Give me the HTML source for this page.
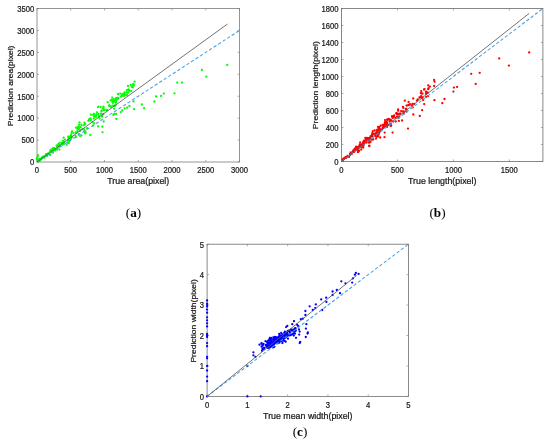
<!DOCTYPE html><html><head><meta charset="utf-8"><title>Figure</title><style>html,body{margin:0;padding:0;background:#fff}svg{display:block}text{font-family:"Liberation Sans",Arial,sans-serif;fill:#1a1a1a;stroke:#1a1a1a;stroke-width:0.24px}.cap{font-family:"Liberation Serif","Palatino Linotype",serif;fill:#000;stroke:none}</style></head><body>
<svg width="550" height="444" viewBox="0 0 550 444">
<rect width="550" height="444" fill="#fff"/>
<g>
<rect x="37.0" y="8.5" width="202.50" height="153.50" fill="none" stroke="#7c7c7c" stroke-width="0.8"/>
<path d="M37.00 162.0v-2.0M37.00 8.5v2.0M70.75 162.0v-2.0M70.75 8.5v2.0M104.50 162.0v-2.0M104.50 8.5v2.0M138.25 162.0v-2.0M138.25 8.5v2.0M172.00 162.0v-2.0M172.00 8.5v2.0M205.75 162.0v-2.0M205.75 8.5v2.0M239.50 162.0v-2.0M239.50 8.5v2.0M37.0 162.00h2.0M239.5 162.00h-2.0M37.0 140.07h2.0M239.5 140.07h-2.0M37.0 118.14h2.0M239.5 118.14h-2.0M37.0 96.21h2.0M239.5 96.21h-2.0M37.0 74.29h2.0M239.5 74.29h-2.0M37.0 52.36h2.0M239.5 52.36h-2.0M37.0 30.43h2.0M239.5 30.43h-2.0M37.0 8.50h2.0M239.5 8.50h-2.0" stroke="#777" stroke-width="0.6" fill="none"/>
<g fill="#00ff00">
<circle cx="52.9" cy="152.7" r="1.15"/>
<circle cx="53.3" cy="150.6" r="1.15"/>
<circle cx="54.8" cy="149.1" r="1.15"/>
<circle cx="55.0" cy="148.7" r="1.15"/>
<circle cx="59.1" cy="144.8" r="1.15"/>
<circle cx="47.6" cy="154.2" r="1.15"/>
<circle cx="40.2" cy="159.1" r="1.15"/>
<circle cx="38.5" cy="161.2" r="1.15"/>
<circle cx="71.5" cy="132.8" r="1.15"/>
<circle cx="58.6" cy="145.9" r="1.15"/>
<circle cx="42.5" cy="156.8" r="1.15"/>
<circle cx="39.1" cy="160.2" r="1.15"/>
<circle cx="43.7" cy="156.7" r="1.15"/>
<circle cx="53.3" cy="149.1" r="1.15"/>
<circle cx="52.5" cy="149.2" r="1.15"/>
<circle cx="59.5" cy="146.4" r="1.15"/>
<circle cx="54.5" cy="149.3" r="1.15"/>
<circle cx="46.8" cy="155.4" r="1.15"/>
<circle cx="72.0" cy="131.3" r="1.15"/>
<circle cx="61.8" cy="143.0" r="1.15"/>
<circle cx="48.1" cy="153.3" r="1.15"/>
<circle cx="39.5" cy="159.6" r="1.15"/>
<circle cx="63.9" cy="144.1" r="1.15"/>
<circle cx="50.6" cy="150.0" r="1.15"/>
<circle cx="70.6" cy="136.2" r="1.15"/>
<circle cx="44.4" cy="156.3" r="1.15"/>
<circle cx="69.0" cy="142.8" r="1.15"/>
<circle cx="50.9" cy="150.5" r="1.15"/>
<circle cx="39.6" cy="160.4" r="1.15"/>
<circle cx="46.5" cy="155.9" r="1.15"/>
<circle cx="40.1" cy="160.1" r="1.15"/>
<circle cx="63.6" cy="137.7" r="1.15"/>
<circle cx="41.1" cy="158.7" r="1.15"/>
<circle cx="39.1" cy="160.0" r="1.15"/>
<circle cx="65.0" cy="139.6" r="1.15"/>
<circle cx="52.7" cy="148.3" r="1.15"/>
<circle cx="43.7" cy="156.8" r="1.15"/>
<circle cx="59.6" cy="145.5" r="1.15"/>
<circle cx="41.1" cy="159.1" r="1.15"/>
<circle cx="46.5" cy="154.3" r="1.15"/>
<circle cx="71.1" cy="135.4" r="1.15"/>
<circle cx="68.1" cy="139.7" r="1.15"/>
<circle cx="44.4" cy="157.5" r="1.15"/>
<circle cx="59.5" cy="142.8" r="1.15"/>
<circle cx="40.5" cy="158.8" r="1.15"/>
<circle cx="46.1" cy="155.0" r="1.15"/>
<circle cx="64.1" cy="141.9" r="1.15"/>
<circle cx="39.6" cy="159.5" r="1.15"/>
<circle cx="40.2" cy="159.8" r="1.15"/>
<circle cx="58.1" cy="146.4" r="1.15"/>
<circle cx="50.0" cy="155.0" r="1.15"/>
<circle cx="54.0" cy="147.9" r="1.15"/>
<circle cx="57.2" cy="145.8" r="1.15"/>
<circle cx="42.4" cy="158.0" r="1.15"/>
<circle cx="68.9" cy="137.0" r="1.15"/>
<circle cx="43.7" cy="157.3" r="1.15"/>
<circle cx="63.0" cy="141.0" r="1.15"/>
<circle cx="70.3" cy="136.9" r="1.15"/>
<circle cx="68.0" cy="139.9" r="1.15"/>
<circle cx="40.6" cy="159.4" r="1.15"/>
<circle cx="38.4" cy="160.5" r="1.15"/>
<circle cx="61.7" cy="143.3" r="1.15"/>
<circle cx="46.0" cy="154.4" r="1.15"/>
<circle cx="47.3" cy="155.3" r="1.15"/>
<circle cx="43.2" cy="157.2" r="1.15"/>
<circle cx="45.0" cy="156.1" r="1.15"/>
<circle cx="56.6" cy="145.6" r="1.15"/>
<circle cx="46.8" cy="155.5" r="1.15"/>
<circle cx="69.2" cy="137.2" r="1.15"/>
<circle cx="46.4" cy="154.5" r="1.15"/>
<circle cx="52.6" cy="149.1" r="1.15"/>
<circle cx="49.9" cy="151.7" r="1.15"/>
<circle cx="57.1" cy="145.6" r="1.15"/>
<circle cx="68.3" cy="136.7" r="1.15"/>
<circle cx="71.4" cy="137.4" r="1.15"/>
<circle cx="57.5" cy="148.2" r="1.15"/>
<circle cx="41.9" cy="158.0" r="1.15"/>
<circle cx="68.9" cy="137.5" r="1.15"/>
<circle cx="61.6" cy="142.8" r="1.15"/>
<circle cx="59.3" cy="144.9" r="1.15"/>
<circle cx="53.9" cy="149.1" r="1.15"/>
<circle cx="72.1" cy="136.9" r="1.15"/>
<circle cx="39.6" cy="160.6" r="1.15"/>
<circle cx="68.6" cy="138.7" r="1.15"/>
<circle cx="62.9" cy="143.0" r="1.15"/>
<circle cx="69.1" cy="140.7" r="1.15"/>
<circle cx="49.3" cy="153.5" r="1.15"/>
<circle cx="67.6" cy="142.3" r="1.15"/>
<circle cx="51.6" cy="150.0" r="1.15"/>
<circle cx="57.1" cy="149.5" r="1.15"/>
<circle cx="58.9" cy="146.7" r="1.15"/>
<circle cx="58.4" cy="144.2" r="1.15"/>
<circle cx="39.8" cy="160.7" r="1.15"/>
<circle cx="67.9" cy="142.9" r="1.15"/>
<circle cx="62.6" cy="144.5" r="1.15"/>
<circle cx="96.9" cy="112.3" r="1.15"/>
<circle cx="90.2" cy="119.9" r="1.15"/>
<circle cx="104.8" cy="110.1" r="1.15"/>
<circle cx="70.8" cy="138.3" r="1.15"/>
<circle cx="80.3" cy="130.2" r="1.15"/>
<circle cx="102.4" cy="114.9" r="1.15"/>
<circle cx="112.9" cy="102.8" r="1.15"/>
<circle cx="81.5" cy="124.9" r="1.15"/>
<circle cx="101.4" cy="111.6" r="1.15"/>
<circle cx="79.0" cy="126.3" r="1.15"/>
<circle cx="100.6" cy="107.0" r="1.15"/>
<circle cx="90.3" cy="118.5" r="1.15"/>
<circle cx="100.9" cy="113.8" r="1.15"/>
<circle cx="78.8" cy="134.1" r="1.15"/>
<circle cx="112.6" cy="100.9" r="1.15"/>
<circle cx="111.0" cy="107.1" r="1.15"/>
<circle cx="84.4" cy="122.6" r="1.15"/>
<circle cx="75.8" cy="137.2" r="1.15"/>
<circle cx="109.5" cy="105.4" r="1.15"/>
<circle cx="103.0" cy="108.4" r="1.15"/>
<circle cx="77.4" cy="131.2" r="1.15"/>
<circle cx="90.7" cy="120.4" r="1.15"/>
<circle cx="89.0" cy="119.5" r="1.15"/>
<circle cx="99.0" cy="116.2" r="1.15"/>
<circle cx="109.0" cy="105.7" r="1.15"/>
<circle cx="115.8" cy="101.6" r="1.15"/>
<circle cx="70.9" cy="135.2" r="1.15"/>
<circle cx="110.6" cy="100.3" r="1.15"/>
<circle cx="96.4" cy="114.6" r="1.15"/>
<circle cx="84.0" cy="125.2" r="1.15"/>
<circle cx="75.8" cy="132.3" r="1.15"/>
<circle cx="90.9" cy="114.7" r="1.15"/>
<circle cx="80.6" cy="127.2" r="1.15"/>
<circle cx="76.1" cy="127.7" r="1.15"/>
<circle cx="90.5" cy="119.1" r="1.15"/>
<circle cx="99.2" cy="116.4" r="1.15"/>
<circle cx="114.7" cy="105.7" r="1.15"/>
<circle cx="101.7" cy="110.5" r="1.15"/>
<circle cx="77.8" cy="127.1" r="1.15"/>
<circle cx="69.9" cy="140.8" r="1.15"/>
<circle cx="77.9" cy="129.4" r="1.15"/>
<circle cx="82.3" cy="129.2" r="1.15"/>
<circle cx="94.0" cy="113.9" r="1.15"/>
<circle cx="98.4" cy="114.0" r="1.15"/>
<circle cx="106.8" cy="110.4" r="1.15"/>
<circle cx="112.2" cy="97.7" r="1.15"/>
<circle cx="103.5" cy="106.7" r="1.15"/>
<circle cx="75.5" cy="135.8" r="1.15"/>
<circle cx="112.4" cy="102.1" r="1.15"/>
<circle cx="87.2" cy="128.2" r="1.15"/>
<circle cx="107.0" cy="109.8" r="1.15"/>
<circle cx="114.0" cy="106.0" r="1.15"/>
<circle cx="79.1" cy="128.3" r="1.15"/>
<circle cx="103.5" cy="108.4" r="1.15"/>
<circle cx="103.3" cy="114.0" r="1.15"/>
<circle cx="79.5" cy="122.4" r="1.15"/>
<circle cx="115.6" cy="105.4" r="1.15"/>
<circle cx="94.8" cy="116.3" r="1.15"/>
<circle cx="112.4" cy="105.6" r="1.15"/>
<circle cx="109.8" cy="105.9" r="1.15"/>
<circle cx="90.2" cy="119.5" r="1.15"/>
<circle cx="95.4" cy="116.1" r="1.15"/>
<circle cx="70.7" cy="139.0" r="1.15"/>
<circle cx="107.6" cy="102.2" r="1.15"/>
<circle cx="77.6" cy="128.4" r="1.15"/>
<circle cx="85.2" cy="124.0" r="1.15"/>
<circle cx="76.4" cy="132.8" r="1.15"/>
<circle cx="93.8" cy="118.6" r="1.15"/>
<circle cx="102.0" cy="116.7" r="1.15"/>
<circle cx="114.1" cy="108.8" r="1.15"/>
<circle cx="73.5" cy="133.2" r="1.15"/>
<circle cx="79.9" cy="130.9" r="1.15"/>
<circle cx="103.8" cy="110.3" r="1.15"/>
<circle cx="99.6" cy="118.6" r="1.15"/>
<circle cx="95.9" cy="116.9" r="1.15"/>
<circle cx="84.1" cy="129.3" r="1.15"/>
<circle cx="111.9" cy="99.8" r="1.15"/>
<circle cx="79.2" cy="124.6" r="1.15"/>
<circle cx="94.2" cy="123.5" r="1.15"/>
<circle cx="96.5" cy="114.6" r="1.15"/>
<circle cx="93.2" cy="114.8" r="1.15"/>
<circle cx="98.0" cy="107.0" r="1.15"/>
<circle cx="93.8" cy="116.4" r="1.15"/>
<circle cx="88.3" cy="120.8" r="1.15"/>
<circle cx="92.6" cy="122.1" r="1.15"/>
<circle cx="37.7" cy="161.5" r="1.15"/>
<circle cx="37.5" cy="159.1" r="1.15"/>
<circle cx="38.0" cy="155.5" r="1.15"/>
<circle cx="37.3" cy="158.7" r="1.15"/>
<circle cx="37.1" cy="159.0" r="1.15"/>
<circle cx="37.8" cy="155.7" r="1.15"/>
<circle cx="37.5" cy="159.8" r="1.15"/>
<circle cx="37.2" cy="157.7" r="1.15"/>
<circle cx="133.3" cy="84.0" r="1.15"/>
<circle cx="113.8" cy="99.2" r="1.15"/>
<circle cx="117.5" cy="98.3" r="1.15"/>
<circle cx="120.2" cy="93.6" r="1.15"/>
<circle cx="121.0" cy="96.7" r="1.15"/>
<circle cx="129.1" cy="90.3" r="1.15"/>
<circle cx="115.9" cy="101.4" r="1.15"/>
<circle cx="117.5" cy="98.8" r="1.15"/>
<circle cx="124.7" cy="94.8" r="1.15"/>
<circle cx="122.2" cy="94.3" r="1.15"/>
<circle cx="124.7" cy="92.3" r="1.15"/>
<circle cx="126.9" cy="90.2" r="1.15"/>
<circle cx="127.1" cy="95.0" r="1.15"/>
<circle cx="126.5" cy="92.4" r="1.15"/>
<circle cx="131.8" cy="87.1" r="1.15"/>
<circle cx="130.8" cy="85.0" r="1.15"/>
<circle cx="132.8" cy="87.4" r="1.15"/>
<circle cx="133.2" cy="84.8" r="1.15"/>
<circle cx="118.0" cy="94.2" r="1.15"/>
<circle cx="116.2" cy="99.8" r="1.15"/>
<circle cx="118.4" cy="98.2" r="1.15"/>
<circle cx="115.4" cy="101.9" r="1.15"/>
<circle cx="131.2" cy="91.0" r="1.15"/>
<circle cx="116.0" cy="98.2" r="1.15"/>
<circle cx="122.0" cy="95.3" r="1.15"/>
<circle cx="117.6" cy="99.0" r="1.15"/>
<circle cx="128.0" cy="86.0" r="1.15"/>
<circle cx="115.8" cy="102.8" r="1.15"/>
<circle cx="124.2" cy="93.3" r="1.15"/>
<circle cx="128.1" cy="92.7" r="1.15"/>
<circle cx="117.4" cy="98.0" r="1.15"/>
<circle cx="114.1" cy="101.0" r="1.15"/>
<circle cx="125.2" cy="95.2" r="1.15"/>
<circle cx="116.4" cy="99.8" r="1.15"/>
<circle cx="117.3" cy="97.8" r="1.15"/>
<circle cx="134.7" cy="81.6" r="1.15"/>
<circle cx="133.3" cy="85.7" r="1.15"/>
<circle cx="133.8" cy="85.5" r="1.15"/>
<circle cx="123.3" cy="94.0" r="1.15"/>
<circle cx="123.4" cy="95.9" r="1.15"/>
<circle cx="124.4" cy="95.7" r="1.15"/>
<circle cx="113.6" cy="100.7" r="1.15"/>
<circle cx="128.4" cy="89.4" r="1.15"/>
<circle cx="123.1" cy="95.4" r="1.15"/>
<circle cx="129.2" cy="90.6" r="1.15"/>
<circle cx="66.7" cy="144.8" r="1.15"/>
<circle cx="55.1" cy="150.5" r="1.15"/>
<circle cx="116.1" cy="113.9" r="1.15"/>
<circle cx="120.7" cy="112.1" r="1.15"/>
<circle cx="85.3" cy="133.4" r="1.15"/>
<circle cx="93.0" cy="125.7" r="1.15"/>
<circle cx="116.3" cy="118.9" r="1.15"/>
<circle cx="124.6" cy="108.3" r="1.15"/>
<circle cx="114.3" cy="113.8" r="1.15"/>
<circle cx="85.4" cy="131.3" r="1.15"/>
<circle cx="122.2" cy="110.4" r="1.15"/>
<circle cx="113.4" cy="114.9" r="1.15"/>
<circle cx="85.4" cy="132.5" r="1.15"/>
<circle cx="59.4" cy="149.6" r="1.15"/>
<circle cx="90.3" cy="134.9" r="1.15"/>
<circle cx="81.5" cy="135.4" r="1.15"/>
<circle cx="102.3" cy="126.7" r="1.15"/>
<circle cx="127.2" cy="107.7" r="1.15"/>
<circle cx="80.1" cy="136.1" r="1.15"/>
<circle cx="98.1" cy="126.4" r="1.15"/>
<circle cx="84.1" cy="131.4" r="1.15"/>
<circle cx="103.7" cy="121.5" r="1.15"/>
<circle cx="227.2" cy="64.9" r="1.15"/>
<circle cx="201.9" cy="70.0" r="1.15"/>
<circle cx="206.4" cy="76.7" r="1.15"/>
<circle cx="177.2" cy="82.7" r="1.15"/>
<circle cx="182.1" cy="82.7" r="1.15"/>
<circle cx="174.5" cy="93.3" r="1.15"/>
<circle cx="163.8" cy="93.6" r="1.15"/>
<circle cx="161.1" cy="96.0" r="1.15"/>
<circle cx="156.1" cy="96.5" r="1.15"/>
<circle cx="154.4" cy="101.5" r="1.15"/>
<circle cx="141.8" cy="104.5" r="1.15"/>
<circle cx="144.0" cy="108.2" r="1.15"/>
<circle cx="133.6" cy="101.5" r="1.15"/>
<circle cx="129.4" cy="106.0" r="1.15"/>
<circle cx="134.1" cy="109.2" r="1.15"/>
<circle cx="102.5" cy="132.3" r="1.15"/>
</g>
<line x1="37.00" y1="162.00" x2="239.50" y2="30.43" stroke="#45a0e6" stroke-width="1.05" stroke-dasharray="3.3 2.1"/>
<line x1="37.00" y1="162.00" x2="227.50" y2="24.00" stroke="#5a5a5a" stroke-width="0.85"/>
<text transform="translate(37.00 173.00) scale(0.8696 1)" font-size="8.80" text-anchor="middle">0</text>
<text transform="translate(70.75 173.00) scale(0.8696 1)" font-size="8.80" text-anchor="middle">500</text>
<text transform="translate(104.50 173.00) scale(0.8696 1)" font-size="8.80" text-anchor="middle">1000</text>
<text transform="translate(138.25 173.00) scale(0.8696 1)" font-size="8.80" text-anchor="middle">1500</text>
<text transform="translate(172.00 173.00) scale(0.8696 1)" font-size="8.80" text-anchor="middle">2000</text>
<text transform="translate(205.75 173.00) scale(0.8696 1)" font-size="8.80" text-anchor="middle">2500</text>
<text transform="translate(239.50 173.00) scale(0.8696 1)" font-size="8.80" text-anchor="middle">3000</text>
<text transform="translate(34.15 165.35) scale(0.8696 1)" font-size="8.80" text-anchor="end">0</text>
<text transform="translate(34.15 143.42) scale(0.8696 1)" font-size="8.80" text-anchor="end">500</text>
<text transform="translate(34.15 121.49) scale(0.8696 1)" font-size="8.80" text-anchor="end">1000</text>
<text transform="translate(34.15 99.56) scale(0.8696 1)" font-size="8.80" text-anchor="end">1500</text>
<text transform="translate(34.15 77.64) scale(0.8696 1)" font-size="8.80" text-anchor="end">2000</text>
<text transform="translate(34.15 55.71) scale(0.8696 1)" font-size="8.80" text-anchor="end">2500</text>
<text transform="translate(34.15 33.78) scale(0.8696 1)" font-size="8.80" text-anchor="end">3000</text>
<text transform="translate(34.15 11.85) scale(0.8696 1)" font-size="8.80" text-anchor="end">3500</text>
<text x="138.25" y="184.2" font-size="8.83" text-anchor="middle">True area(pixel)</text>
<text transform="translate(13.1 85.85) rotate(-90) scale(1 0.84)" font-size="8.54" text-anchor="middle">Prediction area(pixel)</text>
<text class="cap" x="133.5" y="217.4" font-size="13.2" text-anchor="middle">(<tspan font-weight="bold">a</tspan>)</text>
</g>
<g>
<rect x="341.5" y="8.5" width="201.40" height="152.95" fill="none" stroke="#6a6a6a" stroke-width="0.8"/>
<path d="M341.50 161.45v-2.0M341.50 8.5v2.0M397.44 161.45v-2.0M397.44 8.5v2.0M453.39 161.45v-2.0M453.39 8.5v2.0M509.33 161.45v-2.0M509.33 8.5v2.0M341.5 161.45h2.0M542.9 161.45h-2.0M341.5 144.46h2.0M542.9 144.46h-2.0M341.5 127.46h2.0M542.9 127.46h-2.0M341.5 110.47h2.0M542.9 110.47h-2.0M341.5 93.47h2.0M542.9 93.47h-2.0M341.5 76.48h2.0M542.9 76.48h-2.0M341.5 59.48h2.0M542.9 59.48h-2.0M341.5 42.49h2.0M542.9 42.49h-2.0M341.5 25.49h2.0M542.9 25.49h-2.0M341.5 8.50h2.0M542.9 8.50h-2.0" stroke="#777" stroke-width="0.6" fill="none"/>
<g fill="#ff0000">
<circle cx="428.2" cy="89.2" r="1.15"/>
<circle cx="397.1" cy="114.1" r="1.15"/>
<circle cx="378.5" cy="129.8" r="1.15"/>
<circle cx="420.8" cy="96.4" r="1.15"/>
<circle cx="380.4" cy="130.1" r="1.15"/>
<circle cx="350.2" cy="154.8" r="1.15"/>
<circle cx="363.8" cy="144.0" r="1.15"/>
<circle cx="428.6" cy="88.2" r="1.15"/>
<circle cx="426.0" cy="91.7" r="1.15"/>
<circle cx="398.2" cy="110.8" r="1.15"/>
<circle cx="360.0" cy="147.1" r="1.15"/>
<circle cx="355.1" cy="148.4" r="1.15"/>
<circle cx="349.9" cy="153.8" r="1.15"/>
<circle cx="369.3" cy="146.2" r="1.15"/>
<circle cx="357.9" cy="148.8" r="1.15"/>
<circle cx="362.7" cy="146.0" r="1.15"/>
<circle cx="398.6" cy="117.9" r="1.15"/>
<circle cx="408.8" cy="105.1" r="1.15"/>
<circle cx="387.1" cy="123.4" r="1.15"/>
<circle cx="390.8" cy="120.3" r="1.15"/>
<circle cx="350.7" cy="154.0" r="1.15"/>
<circle cx="375.3" cy="135.9" r="1.15"/>
<circle cx="394.1" cy="115.3" r="1.15"/>
<circle cx="351.3" cy="153.8" r="1.15"/>
<circle cx="356.1" cy="146.7" r="1.15"/>
<circle cx="417.8" cy="99.3" r="1.15"/>
<circle cx="351.9" cy="153.8" r="1.15"/>
<circle cx="390.7" cy="125.9" r="1.15"/>
<circle cx="380.7" cy="125.7" r="1.15"/>
<circle cx="370.5" cy="141.7" r="1.15"/>
<circle cx="369.5" cy="139.4" r="1.15"/>
<circle cx="379.1" cy="133.0" r="1.15"/>
<circle cx="372.0" cy="139.7" r="1.15"/>
<circle cx="375.4" cy="133.4" r="1.15"/>
<circle cx="385.1" cy="123.7" r="1.15"/>
<circle cx="361.6" cy="147.6" r="1.15"/>
<circle cx="403.2" cy="111.8" r="1.15"/>
<circle cx="372.8" cy="131.1" r="1.15"/>
<circle cx="378.6" cy="134.8" r="1.15"/>
<circle cx="403.4" cy="107.9" r="1.15"/>
<circle cx="361.0" cy="145.3" r="1.15"/>
<circle cx="361.1" cy="144.8" r="1.15"/>
<circle cx="409.8" cy="104.4" r="1.15"/>
<circle cx="353.3" cy="151.4" r="1.15"/>
<circle cx="354.7" cy="149.4" r="1.15"/>
<circle cx="387.0" cy="119.6" r="1.15"/>
<circle cx="377.7" cy="135.0" r="1.15"/>
<circle cx="385.1" cy="124.4" r="1.15"/>
<circle cx="412.7" cy="107.4" r="1.15"/>
<circle cx="364.1" cy="141.0" r="1.15"/>
<circle cx="363.1" cy="143.6" r="1.15"/>
<circle cx="398.9" cy="120.9" r="1.15"/>
<circle cx="401.1" cy="111.1" r="1.15"/>
<circle cx="409.8" cy="104.4" r="1.15"/>
<circle cx="396.5" cy="113.0" r="1.15"/>
<circle cx="357.8" cy="148.1" r="1.15"/>
<circle cx="382.3" cy="128.9" r="1.15"/>
<circle cx="365.3" cy="137.9" r="1.15"/>
<circle cx="372.2" cy="136.2" r="1.15"/>
<circle cx="395.6" cy="118.0" r="1.15"/>
<circle cx="369.0" cy="140.2" r="1.15"/>
<circle cx="397.6" cy="114.0" r="1.15"/>
<circle cx="347.4" cy="156.0" r="1.15"/>
<circle cx="369.8" cy="137.8" r="1.15"/>
<circle cx="386.8" cy="122.7" r="1.15"/>
<circle cx="368.3" cy="138.3" r="1.15"/>
<circle cx="421.9" cy="98.2" r="1.15"/>
<circle cx="376.9" cy="132.6" r="1.15"/>
<circle cx="362.3" cy="144.4" r="1.15"/>
<circle cx="357.6" cy="148.7" r="1.15"/>
<circle cx="400.3" cy="114.1" r="1.15"/>
<circle cx="368.8" cy="142.5" r="1.15"/>
<circle cx="355.4" cy="150.0" r="1.15"/>
<circle cx="375.8" cy="133.6" r="1.15"/>
<circle cx="385.0" cy="120.1" r="1.15"/>
<circle cx="379.2" cy="127.0" r="1.15"/>
<circle cx="356.8" cy="149.4" r="1.15"/>
<circle cx="426.8" cy="93.2" r="1.15"/>
<circle cx="398.1" cy="114.6" r="1.15"/>
<circle cx="374.7" cy="130.5" r="1.15"/>
<circle cx="352.9" cy="151.3" r="1.15"/>
<circle cx="364.9" cy="142.0" r="1.15"/>
<circle cx="375.9" cy="135.8" r="1.15"/>
<circle cx="346.7" cy="157.3" r="1.15"/>
<circle cx="384.9" cy="122.5" r="1.15"/>
<circle cx="412.0" cy="105.3" r="1.15"/>
<circle cx="345.4" cy="157.5" r="1.15"/>
<circle cx="398.1" cy="109.5" r="1.15"/>
<circle cx="372.0" cy="134.3" r="1.15"/>
<circle cx="380.0" cy="131.4" r="1.15"/>
<circle cx="353.7" cy="150.0" r="1.15"/>
<circle cx="359.7" cy="144.4" r="1.15"/>
<circle cx="387.1" cy="126.9" r="1.15"/>
<circle cx="389.6" cy="121.5" r="1.15"/>
<circle cx="388.7" cy="118.8" r="1.15"/>
<circle cx="359.8" cy="146.7" r="1.15"/>
<circle cx="420.9" cy="97.3" r="1.15"/>
<circle cx="379.9" cy="129.7" r="1.15"/>
<circle cx="357.1" cy="147.1" r="1.15"/>
<circle cx="343.7" cy="158.7" r="1.15"/>
<circle cx="353.7" cy="151.8" r="1.15"/>
<circle cx="393.0" cy="116.8" r="1.15"/>
<circle cx="406.7" cy="111.5" r="1.15"/>
<circle cx="371.8" cy="135.8" r="1.15"/>
<circle cx="376.4" cy="136.8" r="1.15"/>
<circle cx="344.0" cy="158.7" r="1.15"/>
<circle cx="385.6" cy="126.3" r="1.15"/>
<circle cx="402.9" cy="111.3" r="1.15"/>
<circle cx="367.5" cy="139.2" r="1.15"/>
<circle cx="404.6" cy="111.6" r="1.15"/>
<circle cx="395.8" cy="121.5" r="1.15"/>
<circle cx="344.0" cy="158.6" r="1.15"/>
<circle cx="389.7" cy="119.5" r="1.15"/>
<circle cx="356.5" cy="148.9" r="1.15"/>
<circle cx="372.5" cy="132.9" r="1.15"/>
<circle cx="414.2" cy="103.8" r="1.15"/>
<circle cx="391.2" cy="125.4" r="1.15"/>
<circle cx="368.5" cy="138.6" r="1.15"/>
<circle cx="383.2" cy="125.4" r="1.15"/>
<circle cx="413.2" cy="98.5" r="1.15"/>
<circle cx="421.8" cy="93.5" r="1.15"/>
<circle cx="379.2" cy="127.1" r="1.15"/>
<circle cx="360.2" cy="142.4" r="1.15"/>
<circle cx="345.7" cy="157.2" r="1.15"/>
<circle cx="426.0" cy="94.0" r="1.15"/>
<circle cx="403.7" cy="113.5" r="1.15"/>
<circle cx="366.4" cy="139.5" r="1.15"/>
<circle cx="412.5" cy="103.9" r="1.15"/>
<circle cx="393.2" cy="121.6" r="1.15"/>
<circle cx="364.1" cy="140.6" r="1.15"/>
<circle cx="358.6" cy="151.4" r="1.15"/>
<circle cx="397.0" cy="116.6" r="1.15"/>
<circle cx="374.0" cy="134.1" r="1.15"/>
<circle cx="358.2" cy="148.1" r="1.15"/>
<circle cx="354.0" cy="151.8" r="1.15"/>
<circle cx="384.9" cy="123.2" r="1.15"/>
<circle cx="378.2" cy="130.8" r="1.15"/>
<circle cx="383.8" cy="126.6" r="1.15"/>
<circle cx="367.6" cy="139.3" r="1.15"/>
<circle cx="396.7" cy="113.6" r="1.15"/>
<circle cx="369.4" cy="138.9" r="1.15"/>
<circle cx="396.4" cy="113.6" r="1.15"/>
<circle cx="373.3" cy="139.4" r="1.15"/>
<circle cx="398.8" cy="113.8" r="1.15"/>
<circle cx="402.9" cy="106.8" r="1.15"/>
<circle cx="385.5" cy="122.0" r="1.15"/>
<circle cx="359.2" cy="150.6" r="1.15"/>
<circle cx="388.6" cy="124.9" r="1.15"/>
<circle cx="365.1" cy="142.6" r="1.15"/>
<circle cx="386.3" cy="123.9" r="1.15"/>
<circle cx="379.9" cy="129.1" r="1.15"/>
<circle cx="428.1" cy="96.1" r="1.15"/>
<circle cx="391.4" cy="120.6" r="1.15"/>
<circle cx="356.7" cy="147.7" r="1.15"/>
<circle cx="369.3" cy="141.1" r="1.15"/>
<circle cx="392.0" cy="116.4" r="1.15"/>
<circle cx="358.1" cy="147.3" r="1.15"/>
<circle cx="416.9" cy="100.6" r="1.15"/>
<circle cx="402.1" cy="120.5" r="1.15"/>
<circle cx="393.6" cy="117.4" r="1.15"/>
<circle cx="359.5" cy="147.6" r="1.15"/>
<circle cx="371.6" cy="135.7" r="1.15"/>
<circle cx="363.2" cy="142.4" r="1.15"/>
<circle cx="406.5" cy="105.6" r="1.15"/>
<circle cx="366.9" cy="137.9" r="1.15"/>
<circle cx="354.2" cy="150.1" r="1.15"/>
<circle cx="382.6" cy="125.0" r="1.15"/>
<circle cx="378.0" cy="126.8" r="1.15"/>
<circle cx="422.6" cy="97.3" r="1.15"/>
<circle cx="345.6" cy="157.9" r="1.15"/>
<circle cx="419.5" cy="97.5" r="1.15"/>
<circle cx="392.5" cy="117.9" r="1.15"/>
<circle cx="423.2" cy="100.0" r="1.15"/>
<circle cx="392.2" cy="116.3" r="1.15"/>
<circle cx="369.2" cy="138.1" r="1.15"/>
<circle cx="406.1" cy="108.9" r="1.15"/>
<circle cx="390.5" cy="120.1" r="1.15"/>
<circle cx="407.9" cy="105.3" r="1.15"/>
<circle cx="394.1" cy="116.2" r="1.15"/>
<circle cx="399.2" cy="116.9" r="1.15"/>
<circle cx="378.0" cy="136.6" r="1.15"/>
<circle cx="361.3" cy="144.3" r="1.15"/>
<circle cx="387.5" cy="120.1" r="1.15"/>
<circle cx="383.9" cy="126.1" r="1.15"/>
<circle cx="424.0" cy="89.6" r="1.15"/>
<circle cx="372.7" cy="134.2" r="1.15"/>
<circle cx="386.6" cy="122.0" r="1.15"/>
<circle cx="369.3" cy="145.7" r="1.15"/>
<circle cx="345.7" cy="157.8" r="1.15"/>
<circle cx="405.8" cy="109.3" r="1.15"/>
<circle cx="386.8" cy="124.9" r="1.15"/>
<circle cx="388.3" cy="119.1" r="1.15"/>
<circle cx="363.2" cy="145.3" r="1.15"/>
<circle cx="354.4" cy="150.7" r="1.15"/>
<circle cx="427.9" cy="92.6" r="1.15"/>
<circle cx="383.1" cy="127.7" r="1.15"/>
<circle cx="355.9" cy="150.3" r="1.15"/>
<circle cx="350.8" cy="152.3" r="1.15"/>
<circle cx="404.8" cy="100.7" r="1.15"/>
<circle cx="368.0" cy="138.5" r="1.15"/>
<circle cx="366.7" cy="142.6" r="1.15"/>
<circle cx="390.9" cy="124.1" r="1.15"/>
<circle cx="420.8" cy="93.1" r="1.15"/>
<circle cx="357.4" cy="148.1" r="1.15"/>
<circle cx="366.5" cy="138.4" r="1.15"/>
<circle cx="368.3" cy="138.4" r="1.15"/>
<circle cx="360.4" cy="146.1" r="1.15"/>
<circle cx="363.9" cy="144.3" r="1.15"/>
<circle cx="363.6" cy="141.4" r="1.15"/>
<circle cx="366.1" cy="140.2" r="1.15"/>
<circle cx="370.0" cy="137.9" r="1.15"/>
<circle cx="379.3" cy="129.0" r="1.15"/>
<circle cx="376.8" cy="131.5" r="1.15"/>
<circle cx="408.6" cy="101.9" r="1.15"/>
<circle cx="369.7" cy="142.4" r="1.15"/>
<circle cx="378.5" cy="128.5" r="1.15"/>
<circle cx="383.8" cy="125.0" r="1.15"/>
<circle cx="349.1" cy="156.9" r="1.15"/>
<circle cx="370.5" cy="136.3" r="1.15"/>
<circle cx="376.9" cy="129.8" r="1.15"/>
<circle cx="406.2" cy="108.9" r="1.15"/>
<circle cx="355.9" cy="149.4" r="1.15"/>
<circle cx="355.6" cy="148.8" r="1.15"/>
<circle cx="400.2" cy="113.4" r="1.15"/>
<circle cx="386.2" cy="122.2" r="1.15"/>
<circle cx="376.9" cy="133.6" r="1.15"/>
<circle cx="358.7" cy="146.3" r="1.15"/>
<circle cx="363.3" cy="147.6" r="1.15"/>
<circle cx="342.5" cy="159.5" r="1.15"/>
<circle cx="363.4" cy="145.6" r="1.15"/>
<circle cx="360.1" cy="145.9" r="1.15"/>
<circle cx="383.0" cy="127.7" r="1.15"/>
<circle cx="353.8" cy="151.6" r="1.15"/>
<circle cx="426.4" cy="91.8" r="1.15"/>
<circle cx="342.8" cy="160.8" r="1.15"/>
<circle cx="424.2" cy="104.1" r="1.15"/>
<circle cx="358.1" cy="150.3" r="1.15"/>
<circle cx="384.7" cy="132.6" r="1.15"/>
<circle cx="380.2" cy="137.5" r="1.15"/>
<circle cx="384.5" cy="137.2" r="1.15"/>
<circle cx="376.0" cy="138.6" r="1.15"/>
<circle cx="357.9" cy="152.2" r="1.15"/>
<circle cx="413.3" cy="114.5" r="1.15"/>
<circle cx="392.6" cy="132.6" r="1.15"/>
<circle cx="361.3" cy="149.6" r="1.15"/>
<circle cx="422.1" cy="110.2" r="1.15"/>
<circle cx="419.8" cy="116.0" r="1.15"/>
<circle cx="529.2" cy="52.5" r="1.15"/>
<circle cx="499.2" cy="58.4" r="1.15"/>
<circle cx="508.9" cy="65.6" r="1.15"/>
<circle cx="479.7" cy="72.8" r="1.15"/>
<circle cx="471.2" cy="73.8" r="1.15"/>
<circle cx="475.7" cy="83.9" r="1.15"/>
<circle cx="457.1" cy="86.9" r="1.15"/>
<circle cx="453.9" cy="87.6" r="1.15"/>
<circle cx="453.4" cy="91.6" r="1.15"/>
<circle cx="444.5" cy="99.0" r="1.15"/>
<circle cx="442.3" cy="103.2" r="1.15"/>
<circle cx="434.4" cy="100.2" r="1.15"/>
<circle cx="434.1" cy="80.0" r="1.15"/>
<circle cx="434.6" cy="81.7" r="1.15"/>
<circle cx="428.2" cy="85.4" r="1.15"/>
<circle cx="429.9" cy="86.6" r="1.15"/>
<circle cx="434.1" cy="85.9" r="1.15"/>
<circle cx="424.5" cy="89.1" r="1.15"/>
<circle cx="421.2" cy="91.1" r="1.15"/>
<circle cx="422.5" cy="93.6" r="1.15"/>
<circle cx="426.2" cy="96.8" r="1.15"/>
<circle cx="421.2" cy="96.5" r="1.15"/>
<circle cx="408.0" cy="128.6" r="1.15"/>
</g>
<line x1="341.50" y1="161.45" x2="542.90" y2="8.50" stroke="#45a0e6" stroke-width="1.05" stroke-dasharray="3.3 2.1"/>
<line x1="341.50" y1="161.45" x2="529.20" y2="13.40" stroke="#5a5a5a" stroke-width="0.85"/>
<text transform="translate(341.50 172.55) scale(0.8696 1)" font-size="8.80" text-anchor="middle">0</text>
<text transform="translate(397.44 172.55) scale(0.8696 1)" font-size="8.80" text-anchor="middle">500</text>
<text transform="translate(453.39 172.55) scale(0.8696 1)" font-size="8.80" text-anchor="middle">1000</text>
<text transform="translate(509.33 172.55) scale(0.8696 1)" font-size="8.80" text-anchor="middle">1500</text>
<text transform="translate(338.55 164.80) scale(0.8696 1)" font-size="8.80" text-anchor="end">0</text>
<text transform="translate(338.55 147.81) scale(0.8696 1)" font-size="8.80" text-anchor="end">200</text>
<text transform="translate(338.55 130.81) scale(0.8696 1)" font-size="8.80" text-anchor="end">400</text>
<text transform="translate(338.55 113.82) scale(0.8696 1)" font-size="8.80" text-anchor="end">600</text>
<text transform="translate(338.55 96.82) scale(0.8696 1)" font-size="8.80" text-anchor="end">800</text>
<text transform="translate(338.55 79.83) scale(0.8696 1)" font-size="8.80" text-anchor="end">1000</text>
<text transform="translate(338.55 62.83) scale(0.8696 1)" font-size="8.80" text-anchor="end">1200</text>
<text transform="translate(338.55 45.84) scale(0.8696 1)" font-size="8.80" text-anchor="end">1400</text>
<text transform="translate(338.55 28.84) scale(0.8696 1)" font-size="8.80" text-anchor="end">1600</text>
<text transform="translate(338.55 11.85) scale(0.8696 1)" font-size="8.80" text-anchor="end">1800</text>
<text x="442.20" y="183.9" font-size="8.83" text-anchor="middle">True length(pixel)</text>
<text transform="translate(317.5 85.17) rotate(-90) scale(1 0.84)" font-size="8.66" text-anchor="middle">Prediction length(pixel)</text>
<text class="cap" x="437.5" y="217.4" font-size="13.2" text-anchor="middle">(<tspan font-weight="bold">b</tspan>)</text>
</g>
<g>
<rect x="207.1" y="244.2" width="201.40" height="152.20" fill="none" stroke="#6e6e6e" stroke-width="0.8"/>
<path d="M207.10 396.4v-2.0M207.10 244.2v2.0M247.38 396.4v-2.0M247.38 244.2v2.0M287.66 396.4v-2.0M287.66 244.2v2.0M327.94 396.4v-2.0M327.94 244.2v2.0M368.22 396.4v-2.0M368.22 244.2v2.0M408.50 396.4v-2.0M408.50 244.2v2.0M207.1 396.40h2.0M408.5 396.40h-2.0M207.1 365.96h2.0M408.5 365.96h-2.0M207.1 335.52h2.0M408.5 335.52h-2.0M207.1 305.08h2.0M408.5 305.08h-2.0M207.1 274.64h2.0M408.5 274.64h-2.0M207.1 244.20h2.0M408.5 244.20h-2.0" stroke="#777" stroke-width="0.6" fill="none"/>
<g fill="#0000ff">
<circle cx="268.1" cy="342.5" r="1.15"/>
<circle cx="280.0" cy="339.2" r="1.15"/>
<circle cx="284.6" cy="337.8" r="1.15"/>
<circle cx="286.8" cy="334.2" r="1.15"/>
<circle cx="268.1" cy="341.5" r="1.15"/>
<circle cx="286.9" cy="335.9" r="1.15"/>
<circle cx="274.3" cy="343.2" r="1.15"/>
<circle cx="278.3" cy="340.1" r="1.15"/>
<circle cx="277.3" cy="340.9" r="1.15"/>
<circle cx="272.5" cy="342.7" r="1.15"/>
<circle cx="274.6" cy="339.6" r="1.15"/>
<circle cx="270.6" cy="340.2" r="1.15"/>
<circle cx="268.9" cy="344.0" r="1.15"/>
<circle cx="262.4" cy="349.0" r="1.15"/>
<circle cx="270.2" cy="340.5" r="1.15"/>
<circle cx="280.6" cy="339.6" r="1.15"/>
<circle cx="289.7" cy="333.1" r="1.15"/>
<circle cx="284.4" cy="336.3" r="1.15"/>
<circle cx="266.1" cy="345.1" r="1.15"/>
<circle cx="280.8" cy="336.6" r="1.15"/>
<circle cx="269.9" cy="343.7" r="1.15"/>
<circle cx="268.4" cy="346.2" r="1.15"/>
<circle cx="269.9" cy="337.9" r="1.15"/>
<circle cx="274.6" cy="343.5" r="1.15"/>
<circle cx="280.4" cy="337.4" r="1.15"/>
<circle cx="292.3" cy="330.3" r="1.15"/>
<circle cx="282.1" cy="336.7" r="1.15"/>
<circle cx="275.7" cy="341.3" r="1.15"/>
<circle cx="266.7" cy="346.8" r="1.15"/>
<circle cx="275.1" cy="337.1" r="1.15"/>
<circle cx="295.3" cy="330.1" r="1.15"/>
<circle cx="261.6" cy="343.8" r="1.15"/>
<circle cx="286.5" cy="334.5" r="1.15"/>
<circle cx="283.4" cy="339.7" r="1.15"/>
<circle cx="274.9" cy="337.6" r="1.15"/>
<circle cx="288.0" cy="338.7" r="1.15"/>
<circle cx="268.2" cy="340.7" r="1.15"/>
<circle cx="271.4" cy="346.4" r="1.15"/>
<circle cx="294.0" cy="331.5" r="1.15"/>
<circle cx="270.4" cy="340.5" r="1.15"/>
<circle cx="266.5" cy="345.0" r="1.15"/>
<circle cx="284.3" cy="333.0" r="1.15"/>
<circle cx="279.0" cy="338.7" r="1.15"/>
<circle cx="285.0" cy="335.7" r="1.15"/>
<circle cx="282.3" cy="338.9" r="1.15"/>
<circle cx="278.3" cy="339.4" r="1.15"/>
<circle cx="284.6" cy="340.8" r="1.15"/>
<circle cx="276.5" cy="337.3" r="1.15"/>
<circle cx="292.4" cy="329.9" r="1.15"/>
<circle cx="268.0" cy="347.9" r="1.15"/>
<circle cx="273.7" cy="344.8" r="1.15"/>
<circle cx="274.8" cy="337.0" r="1.15"/>
<circle cx="270.2" cy="343.1" r="1.15"/>
<circle cx="280.5" cy="335.7" r="1.15"/>
<circle cx="274.3" cy="340.5" r="1.15"/>
<circle cx="271.3" cy="344.7" r="1.15"/>
<circle cx="280.1" cy="338.8" r="1.15"/>
<circle cx="266.1" cy="345.1" r="1.15"/>
<circle cx="273.8" cy="339.8" r="1.15"/>
<circle cx="281.7" cy="337.7" r="1.15"/>
<circle cx="289.7" cy="334.6" r="1.15"/>
<circle cx="294.8" cy="328.5" r="1.15"/>
<circle cx="286.8" cy="332.9" r="1.15"/>
<circle cx="297.0" cy="324.7" r="1.15"/>
<circle cx="271.0" cy="338.0" r="1.15"/>
<circle cx="289.8" cy="331.9" r="1.15"/>
<circle cx="279.6" cy="338.1" r="1.15"/>
<circle cx="266.7" cy="346.7" r="1.15"/>
<circle cx="261.6" cy="346.7" r="1.15"/>
<circle cx="267.1" cy="341.9" r="1.15"/>
<circle cx="282.6" cy="335.6" r="1.15"/>
<circle cx="287.5" cy="336.1" r="1.15"/>
<circle cx="285.9" cy="334.0" r="1.15"/>
<circle cx="290.7" cy="335.2" r="1.15"/>
<circle cx="282.7" cy="334.3" r="1.15"/>
<circle cx="282.4" cy="343.0" r="1.15"/>
<circle cx="269.2" cy="344.7" r="1.15"/>
<circle cx="275.8" cy="340.9" r="1.15"/>
<circle cx="285.2" cy="337.2" r="1.15"/>
<circle cx="299.0" cy="329.5" r="1.15"/>
<circle cx="293.2" cy="333.7" r="1.15"/>
<circle cx="279.2" cy="338.7" r="1.15"/>
<circle cx="265.8" cy="345.0" r="1.15"/>
<circle cx="272.8" cy="344.8" r="1.15"/>
<circle cx="262.0" cy="350.8" r="1.15"/>
<circle cx="286.8" cy="333.2" r="1.15"/>
<circle cx="279.8" cy="338.4" r="1.15"/>
<circle cx="291.2" cy="329.3" r="1.15"/>
<circle cx="279.5" cy="338.5" r="1.15"/>
<circle cx="293.9" cy="330.3" r="1.15"/>
<circle cx="273.5" cy="344.1" r="1.15"/>
<circle cx="264.5" cy="347.8" r="1.15"/>
<circle cx="277.7" cy="339.4" r="1.15"/>
<circle cx="291.9" cy="330.4" r="1.15"/>
<circle cx="294.2" cy="331.8" r="1.15"/>
<circle cx="270.9" cy="341.5" r="1.15"/>
<circle cx="276.7" cy="339.4" r="1.15"/>
<circle cx="278.5" cy="340.8" r="1.15"/>
<circle cx="268.3" cy="345.5" r="1.15"/>
<circle cx="270.8" cy="339.6" r="1.15"/>
<circle cx="271.4" cy="341.9" r="1.15"/>
<circle cx="281.6" cy="338.3" r="1.15"/>
<circle cx="281.6" cy="335.8" r="1.15"/>
<circle cx="262.2" cy="346.4" r="1.15"/>
<circle cx="274.3" cy="339.4" r="1.15"/>
<circle cx="273.7" cy="342.8" r="1.15"/>
<circle cx="270.9" cy="342.9" r="1.15"/>
<circle cx="281.6" cy="338.4" r="1.15"/>
<circle cx="278.4" cy="336.9" r="1.15"/>
<circle cx="270.7" cy="339.3" r="1.15"/>
<circle cx="270.4" cy="346.7" r="1.15"/>
<circle cx="274.1" cy="341.3" r="1.15"/>
<circle cx="278.2" cy="340.9" r="1.15"/>
<circle cx="279.4" cy="335.9" r="1.15"/>
<circle cx="286.1" cy="335.2" r="1.15"/>
<circle cx="265.5" cy="341.2" r="1.15"/>
<circle cx="286.3" cy="335.1" r="1.15"/>
<circle cx="287.9" cy="330.9" r="1.15"/>
<circle cx="279.2" cy="340.7" r="1.15"/>
<circle cx="279.8" cy="340.5" r="1.15"/>
<circle cx="274.8" cy="337.5" r="1.15"/>
<circle cx="277.1" cy="342.4" r="1.15"/>
<circle cx="278.2" cy="339.4" r="1.15"/>
<circle cx="268.9" cy="343.6" r="1.15"/>
<circle cx="295.6" cy="328.2" r="1.15"/>
<circle cx="281.3" cy="336.2" r="1.15"/>
<circle cx="293.8" cy="335.5" r="1.15"/>
<circle cx="285.0" cy="336.6" r="1.15"/>
<circle cx="282.0" cy="337.7" r="1.15"/>
<circle cx="272.9" cy="347.4" r="1.15"/>
<circle cx="279.3" cy="337.3" r="1.15"/>
<circle cx="269.6" cy="347.8" r="1.15"/>
<circle cx="274.4" cy="346.8" r="1.15"/>
<circle cx="269.4" cy="342.7" r="1.15"/>
<circle cx="282.7" cy="335.4" r="1.15"/>
<circle cx="280.8" cy="338.1" r="1.15"/>
<circle cx="280.9" cy="335.6" r="1.15"/>
<circle cx="284.8" cy="335.1" r="1.15"/>
<circle cx="279.4" cy="337.3" r="1.15"/>
<circle cx="266.7" cy="345.3" r="1.15"/>
<circle cx="263.9" cy="347.9" r="1.15"/>
<circle cx="274.0" cy="339.6" r="1.15"/>
<circle cx="280.7" cy="335.9" r="1.15"/>
<circle cx="281.1" cy="337.2" r="1.15"/>
<circle cx="272.4" cy="342.0" r="1.15"/>
<circle cx="272.0" cy="339.3" r="1.15"/>
<circle cx="273.3" cy="337.3" r="1.15"/>
<circle cx="287.3" cy="335.0" r="1.15"/>
<circle cx="263.9" cy="349.0" r="1.15"/>
<circle cx="272.0" cy="341.8" r="1.15"/>
<circle cx="269.2" cy="339.4" r="1.15"/>
<circle cx="279.9" cy="338.8" r="1.15"/>
<circle cx="279.3" cy="337.7" r="1.15"/>
<circle cx="282.3" cy="337.1" r="1.15"/>
<circle cx="271.5" cy="340.7" r="1.15"/>
<circle cx="278.4" cy="338.1" r="1.15"/>
<circle cx="267.7" cy="345.8" r="1.15"/>
<circle cx="269.5" cy="343.2" r="1.15"/>
<circle cx="279.0" cy="338.9" r="1.15"/>
<circle cx="280.0" cy="338.3" r="1.15"/>
<circle cx="289.9" cy="335.1" r="1.15"/>
<circle cx="284.9" cy="337.2" r="1.15"/>
<circle cx="272.2" cy="345.2" r="1.15"/>
<circle cx="292.0" cy="334.3" r="1.15"/>
<circle cx="273.1" cy="344.2" r="1.15"/>
<circle cx="275.1" cy="343.2" r="1.15"/>
<circle cx="294.6" cy="330.2" r="1.15"/>
<circle cx="298.2" cy="326.0" r="1.15"/>
<circle cx="263.0" cy="345.1" r="1.15"/>
<circle cx="286.6" cy="332.8" r="1.15"/>
<circle cx="276.9" cy="337.8" r="1.15"/>
<circle cx="290.1" cy="332.8" r="1.15"/>
<circle cx="289.3" cy="330.3" r="1.15"/>
<circle cx="295.6" cy="330.6" r="1.15"/>
<circle cx="281.5" cy="338.2" r="1.15"/>
<circle cx="270.0" cy="345.8" r="1.15"/>
<circle cx="273.8" cy="338.6" r="1.15"/>
<circle cx="272.6" cy="341.9" r="1.15"/>
<circle cx="277.9" cy="341.1" r="1.15"/>
<circle cx="277.7" cy="342.3" r="1.15"/>
<circle cx="272.0" cy="343.2" r="1.15"/>
<circle cx="278.5" cy="341.7" r="1.15"/>
<circle cx="277.7" cy="343.3" r="1.15"/>
<circle cx="275.8" cy="337.6" r="1.15"/>
<circle cx="291.3" cy="330.3" r="1.15"/>
<circle cx="279.2" cy="334.0" r="1.15"/>
<circle cx="279.6" cy="340.1" r="1.15"/>
<circle cx="286.2" cy="336.7" r="1.15"/>
<circle cx="267.5" cy="343.0" r="1.15"/>
<circle cx="287.3" cy="335.4" r="1.15"/>
<circle cx="270.3" cy="342.7" r="1.15"/>
<circle cx="283.3" cy="338.9" r="1.15"/>
<circle cx="274.4" cy="339.6" r="1.15"/>
<circle cx="281.2" cy="333.0" r="1.15"/>
<circle cx="285.7" cy="341.7" r="1.15"/>
<circle cx="289.3" cy="335.3" r="1.15"/>
<circle cx="281.7" cy="340.9" r="1.15"/>
<circle cx="283.4" cy="340.5" r="1.15"/>
<circle cx="284.9" cy="331.7" r="1.15"/>
<circle cx="275.4" cy="338.7" r="1.15"/>
<circle cx="279.3" cy="338.7" r="1.15"/>
<circle cx="269.5" cy="343.5" r="1.15"/>
<circle cx="280.7" cy="341.0" r="1.15"/>
<circle cx="295.0" cy="333.6" r="1.15"/>
<circle cx="275.6" cy="341.0" r="1.15"/>
<circle cx="275.5" cy="341.4" r="1.15"/>
<circle cx="295.4" cy="331.0" r="1.15"/>
<circle cx="275.5" cy="338.9" r="1.15"/>
<circle cx="272.5" cy="345.7" r="1.15"/>
<circle cx="289.9" cy="333.5" r="1.15"/>
<circle cx="287.7" cy="331.5" r="1.15"/>
<circle cx="294.2" cy="329.3" r="1.15"/>
<circle cx="279.4" cy="342.7" r="1.15"/>
<circle cx="285.6" cy="337.6" r="1.15"/>
<circle cx="289.5" cy="334.6" r="1.15"/>
<circle cx="207.1" cy="396.4" r="1.15"/>
<circle cx="207.1" cy="381.2" r="1.15"/>
<circle cx="207.1" cy="376.6" r="1.15"/>
<circle cx="207.1" cy="370.5" r="1.15"/>
<circle cx="207.1" cy="366.0" r="1.15"/>
<circle cx="207.1" cy="358.3" r="1.15"/>
<circle cx="207.1" cy="356.8" r="1.15"/>
<circle cx="207.1" cy="346.2" r="1.15"/>
<circle cx="207.1" cy="343.1" r="1.15"/>
<circle cx="207.1" cy="337.0" r="1.15"/>
<circle cx="207.1" cy="335.5" r="1.15"/>
<circle cx="207.1" cy="334.0" r="1.15"/>
<circle cx="207.1" cy="326.4" r="1.15"/>
<circle cx="207.1" cy="323.3" r="1.15"/>
<circle cx="207.1" cy="320.3" r="1.15"/>
<circle cx="207.1" cy="317.3" r="1.15"/>
<circle cx="207.1" cy="312.7" r="1.15"/>
<circle cx="207.1" cy="309.6" r="1.15"/>
<circle cx="207.1" cy="306.6" r="1.15"/>
<circle cx="207.1" cy="305.1" r="1.15"/>
<circle cx="207.1" cy="303.6" r="1.15"/>
<circle cx="207.1" cy="300.5" r="1.15"/>
<circle cx="247.4" cy="396.4" r="1.15"/>
<circle cx="260.7" cy="396.4" r="1.15"/>
<circle cx="247.4" cy="366.0" r="1.15"/>
<circle cx="253.4" cy="352.3" r="1.15"/>
<circle cx="255.4" cy="356.8" r="1.15"/>
<circle cx="253.4" cy="355.3" r="1.15"/>
<circle cx="259.5" cy="344.7" r="1.15"/>
<circle cx="261.5" cy="343.1" r="1.15"/>
<circle cx="263.5" cy="344.0" r="1.15"/>
<circle cx="299.7" cy="343.1" r="1.15"/>
<circle cx="305.8" cy="337.0" r="1.15"/>
<circle cx="307.8" cy="332.5" r="1.15"/>
<circle cx="355.9" cy="272.9" r="1.15"/>
<circle cx="358.6" cy="273.9" r="1.15"/>
<circle cx="354.9" cy="274.7" r="1.15"/>
<circle cx="352.9" cy="278.4" r="1.15"/>
<circle cx="352.2" cy="282.6" r="1.15"/>
<circle cx="341.3" cy="281.3" r="1.15"/>
<circle cx="345.5" cy="283.3" r="1.15"/>
<circle cx="336.8" cy="290.0" r="1.15"/>
<circle cx="332.6" cy="291.5" r="1.15"/>
<circle cx="340.0" cy="293.2" r="1.15"/>
<circle cx="332.6" cy="295.0" r="1.15"/>
<circle cx="326.2" cy="297.7" r="1.15"/>
<circle cx="321.2" cy="299.4" r="1.15"/>
<circle cx="326.4" cy="301.9" r="1.15"/>
<circle cx="315.8" cy="304.4" r="1.15"/>
<circle cx="309.6" cy="306.3" r="1.15"/>
<circle cx="315.3" cy="308.1" r="1.15"/>
<circle cx="322.2" cy="310.0" r="1.15"/>
<circle cx="305.4" cy="311.0" r="1.15"/>
<circle cx="312.8" cy="310.0" r="1.15"/>
<circle cx="305.4" cy="315.0" r="1.15"/>
<circle cx="300.9" cy="319.2" r="1.15"/>
<circle cx="302.9" cy="318.7" r="1.15"/>
<circle cx="294.0" cy="321.2" r="1.15"/>
<circle cx="292.3" cy="324.2" r="1.15"/>
<circle cx="287.3" cy="325.9" r="1.15"/>
<circle cx="286.1" cy="327.1" r="1.15"/>
<circle cx="306.4" cy="324.2" r="1.15"/>
<circle cx="305.9" cy="328.6" r="1.15"/>
<circle cx="307.6" cy="333.6" r="1.15"/>
<circle cx="299.7" cy="331.6" r="1.15"/>
<circle cx="299.2" cy="334.6" r="1.15"/>
<circle cx="300.2" cy="342.0" r="1.15"/>
<circle cx="296.0" cy="337.8" r="1.15"/>
</g>
<line x1="207.10" y1="396.40" x2="408.50" y2="244.20" stroke="#45a0e6" stroke-width="1.05" stroke-dasharray="3.3 2.1"/>
<line x1="207.10" y1="396.40" x2="356.60" y2="275.40" stroke="#5a5a5a" stroke-width="0.85"/>
<text transform="translate(207.10 407.70) scale(0.8696 1)" font-size="8.80" text-anchor="middle">0</text>
<text transform="translate(247.38 407.70) scale(0.8696 1)" font-size="8.80" text-anchor="middle">1</text>
<text transform="translate(287.66 407.70) scale(0.8696 1)" font-size="8.80" text-anchor="middle">2</text>
<text transform="translate(327.94 407.70) scale(0.8696 1)" font-size="8.80" text-anchor="middle">3</text>
<text transform="translate(368.22 407.70) scale(0.8696 1)" font-size="8.80" text-anchor="middle">4</text>
<text transform="translate(408.50 407.70) scale(0.8696 1)" font-size="8.80" text-anchor="middle">5</text>
<text transform="translate(204.00 399.75) scale(0.8696 1)" font-size="8.80" text-anchor="end">0</text>
<text transform="translate(204.00 369.31) scale(0.8696 1)" font-size="8.80" text-anchor="end">1</text>
<text transform="translate(204.00 338.87) scale(0.8696 1)" font-size="8.80" text-anchor="end">2</text>
<text transform="translate(204.00 308.43) scale(0.8696 1)" font-size="8.80" text-anchor="end">3</text>
<text transform="translate(204.00 277.99) scale(0.8696 1)" font-size="8.80" text-anchor="end">4</text>
<text transform="translate(204.00 247.55) scale(0.8696 1)" font-size="8.80" text-anchor="end">5</text>
<text x="307.80" y="418.7" font-size="8.83" text-anchor="middle">True mean width(pixel)</text>
<text transform="translate(195.5 320.90) rotate(-90) scale(1 0.84)" font-size="8.54" text-anchor="middle">Prediction width(pixel)</text>
<text class="cap" x="300" y="436.3" font-size="13.2" text-anchor="middle">(<tspan font-weight="bold">c</tspan>)</text>
</g>
</svg></body></html>
